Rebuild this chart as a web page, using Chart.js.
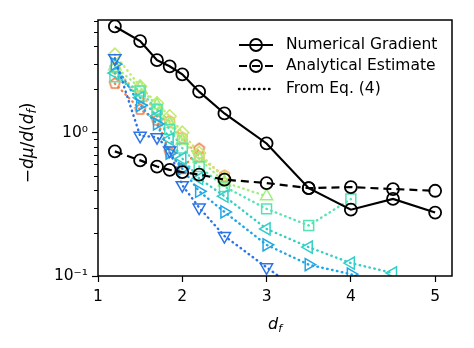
<!DOCTYPE html>
<html lang="en">
<head>
<meta charset="UTF-8">
<title>-dmu/d(df) vs df</title>
<script src="https://cdn.jsdelivr.net/npm/chart.js"></script>
<style>
    body { margin: 0; background: #fff; }
    canvas { display: block; }
</style>
</head>
<body>
<canvas id="chart" width="474" height="348"></canvas>
<script>
// fractal dimension values on the x axis
const dfVals = [1.2, 1.5, 1.7, 1.85, 2.0, 2.2, 2.5, 3.0, 3.5, 4.0, 4.5, 5.0];

// black curves
const numericalGrad = [5.5, 4.35, 3.2, 2.9, 2.55, 1.93, 1.36, 0.84, 0.41, 0.29, 0.345, 0.277];
const analyticalEst = [0.74, 0.64, 0.58, 0.55, 0.53, 0.51, 0.47, 0.445, 0.41, 0.417, 0.404, 0.393];

// coloured curves (From Eq. (4)), one per marker
const eqDown  = [3.3, 0.95, 0.93, 0.75, 0.43, 0.30, 0.19, 0.115, 0.07];
const eqRight = [3.0, 1.55, 1.15, 0.72, 0.56, 0.39, 0.28, 0.165, 0.12, 0.103, 0.075];
const eqLeft  = [2.6, 1.75, 1.3, 0.9, 0.66, 0.48, 0.36, 0.213, 0.159, 0.123, 0.105];
const eqSquare = [2.45, 1.95, 1.45, 1.05, 0.78, 0.58, 0.42, 0.294, 0.225, 0.344];
const eqUp    = [2.9, 2.05, 1.55, 1.15, 0.88, 0.66, 0.45, 0.36];
const eqDiam  = [3.5, 2.1, 1.6, 1.3, 1.0, 0.72, 0.48];
const eqHex   = [2.8, 1.8, 1.45, 1.2, 0.92, 0.68, 0.5];
const eqPent  = [2.2, 1.45, 1.22, 0.73, 0.56, 0.77];

const xTicks = [1, 2, 3, 4, 5];
const yTicks = [0.1, 0.2, 0.3, 0.4, 0.5, 0.6, 0.7, 0.8, 0.9, 1, 2, 3, 4, 5, 6];
const yMajor = [0.1, 1];
const yLabels = { 0.1: '10\u207B\u00B9', 1: '10\u2070' };

const legendNames = ['Numerical Gradient', 'Analytical Estimate', 'From Eq. (4)'];

function pts(vals) {
    const out = [];
    vals.forEach((v, i) => { if (v != null) out.push({ x: dfVals[i], y: v }); });
    return out;
}

function polyMarker(n, color, r) {
    const c = document.createElement('canvas');
    const s = Math.ceil(2 * r + 4);
    c.width = s; c.height = s;
    const g = c.getContext('2d');
    g.strokeStyle = color;
    g.lineWidth = 1.6;
    g.beginPath();
    for (let i = 0; i < n; i++) {
        const a = -Math.PI / 2 + i * 2 * Math.PI / n;
        const px = s / 2 + r * Math.cos(a), py = s / 2 + r * Math.sin(a);
        if (i === 0) g.moveTo(px, py); else g.lineTo(px, py);
    }
    g.closePath();
    g.stroke();
    return c;
}

function colored(vals, color, style, radius, rot) {
    return {
        data: pts(vals),
        borderColor: color,
        backgroundColor: 'rgba(0,0,0,0)',
        borderWidth: 2.4,
        borderDash: [0.5, 4.5],
        borderCapStyle: 'round',
        pointStyle: style,
        pointRotation: rot || 0,
        pointRadius: radius,
        pointBorderWidth: 1.5,
        pointBorderColor: color,
        pointBackgroundColor: 'rgba(0,0,0,0)',
        tension: 0
    };
}

const datasets = [
    {
        data: pts(numericalGrad),
        borderColor: '#000', borderWidth: 2.2,
        backgroundColor: 'rgba(0,0,0,0)',
        pointStyle: 'circle', pointRadius: 6, pointBorderWidth: 1.8,
        pointBorderColor: '#000', pointBackgroundColor: 'rgba(0,0,0,0)'
    },
    {
        data: pts(analyticalEst),
        borderColor: '#000', borderWidth: 2.2, borderDash: [8, 5],
        backgroundColor: 'rgba(0,0,0,0)',
        pointStyle: 'circle', pointRadius: 6, pointBorderWidth: 1.8,
        pointBorderColor: '#000', pointBackgroundColor: 'rgba(0,0,0,0)'
    },
    colored(eqDown, '#2b74e6', 'triangle', 7, 180),
    colored(eqRight, '#1ea6e6', 'triangle', 7, 90),
    colored(eqLeft, '#33cfc6', 'triangle', 7, -90),
    colored(eqSquare, '#55e3b2', 'rect', 7),
    colored(eqUp, '#9ef07e', 'triangle', 7),
    colored(eqDiam, '#c4ea6a', 'rectRot', 6.5),
    colored(eqHex, '#f4b35e', polyMarker(6, '#f4b35e', 5.5), 6),
    colored(eqPent, '#f07f4c', polyMarker(5, '#f07f4c', 5.5), 6)
];

const font = { family: 'DejaVu Sans', size: 15.5 };

const extras = {
    id: 'extras',
    afterDraw(chart) {
        const ctx = chart.ctx;
        const a = chart.chartArea;
        const ys = chart.scales.y;
        ctx.save();
        // frame
        ctx.strokeStyle = '#000';
        ctx.lineWidth = 1.5;
        ctx.strokeRect(a.left, a.top, a.right - a.left, a.bottom - a.top);
        // minor ticks
        ctx.lineWidth = 1;
        yTicks.forEach(v => {
            if (yMajor.includes(v)) return;
            const py = Math.round(ys.getPixelForValue(v)) + 0.5;
            ctx.beginPath();
            ctx.moveTo(a.left, py);
            ctx.lineTo(a.left - 4, py);
            ctx.stroke();
        });
        // axis titles
        ctx.fillStyle = '#000';
        ctx.textBaseline = 'alphabetic';
        function drawParts(parts, cx, cy) {
            let w = 0;
            parts.forEach(p => { ctx.font = p[1]; w += ctx.measureText(p[0]).width; });
            let x = cx - w / 2;
            parts.forEach(p => {
                ctx.font = p[1];
                ctx.fillText(p[0], x, cy + (p[2] || 0));
                x += ctx.measureText(p[0]).width;
            });
        }
        drawParts([['d', 'italic 16px "DejaVu Sans"'], ['f', 'italic 11px "DejaVu Sans"', 3]], (a.left + a.right) / 2, 329);
        ctx.save();
        ctx.translate(33, (a.top + a.bottom) / 2 - 5);
        ctx.rotate(-Math.PI / 2);
        const it = 'italic 17px "DejaVu Sans"', up = '17px "DejaVu Sans"', sub = 'italic 12px "DejaVu Sans"';
        drawParts([['\u2212', up], ['d\u03BC', it], ['/', up], ['d', it], ['(', up], ['d', it], ['f', sub, 3], [')', up]], 0, 0);
        ctx.restore();
        // legend
        const rows = [45, 66, 89];
        const lx0 = 239, lx1 = 273, lc = 256;
        ctx.lineWidth = 2;
        rows.forEach((ry, i) => {
            ctx.beginPath();
            if (i === 1) ctx.setLineDash([8, 5]);
            else if (i === 2) { ctx.setLineDash([0.5, 4.5]); ctx.lineCap = 'round'; ctx.lineWidth = 2.4; }
            ctx.moveTo(lx0, ry); ctx.lineTo(lx1, ry);
            ctx.stroke();
            ctx.setLineDash([]);
            ctx.lineCap = 'butt';
            ctx.lineWidth = 2;
            if (i < 2) {
                ctx.beginPath();
                ctx.lineWidth = 1.8;
                ctx.arc(lc, ry, 6, 0, 2 * Math.PI);
                ctx.stroke();
                ctx.lineWidth = 2;
            }
            ctx.font = '15.5px "DejaVu Sans"';
            ctx.textBaseline = 'middle';
            ctx.fillText(legendNames[i], 286, ry);
        });
        ctx.restore();
    }
};

new Chart(document.getElementById('chart'), {
    type: 'line',
    data: { datasets: datasets },
    options: {
        responsive: false,
        animation: false,
        layout: { padding: { left: 0, top: 20, right: 22, bottom: 0 } },
        plugins: { legend: { display: false }, tooltip: { enabled: false } },
        scales: {
            x: {
                type: 'linear', min: 1, max: 5.2,
                afterBuildTicks: s => { s.ticks = xTicks.map(v => ({ value: v })); },
                afterFit: s => { s.height = 72; },
                ticks: { font: font, color: '#000', padding: 6, autoSkip: false, maxRotation: 0 },
                grid: { display: true, drawOnChartArea: false, tickLength: 6, tickColor: '#000', tickWidth: 1.2 },
                border: { display: false }
            },
            y: {
                type: 'logarithmic', min: 0.1, max: 6.1,
                afterBuildTicks: s => { s.ticks = yTicks.map(v => ({ value: v })); },
                afterFit: s => { s.width = 98; },
                ticks: {
                    font: font, color: '#000', padding: 4, autoSkip: false,
                    callback: v => yLabels[v] || ''
                },
                grid: {
                    display: true, drawOnChartArea: false, tickLength: 6, tickWidth: 1.2,
                    tickColor: c => yMajor.includes(c.tick.value) ? '#000' : 'rgba(0,0,0,0)'
                },
                border: { display: false }
            }
        }
    },
    plugins: [extras]
});
</script>
</body>
</html>
